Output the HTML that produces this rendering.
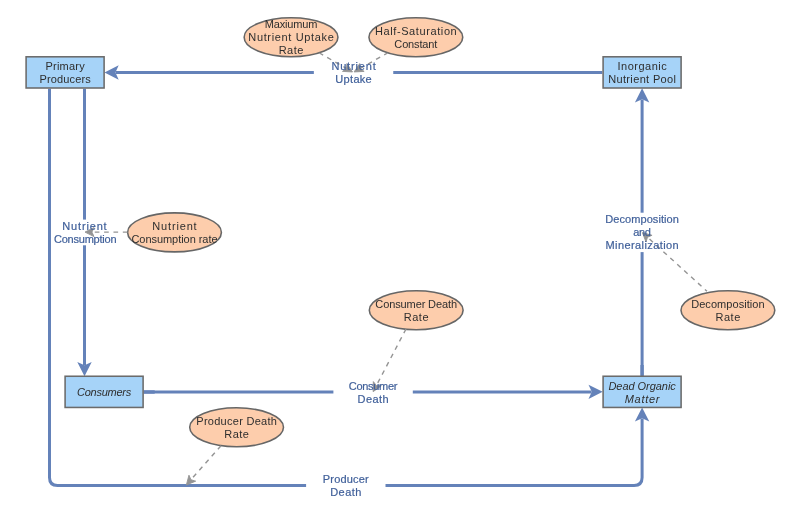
<!DOCTYPE html>
<html><head><meta charset="utf-8"><title>Nutrient Cycle Model</title>
<style>
html,body{margin:0;padding:0;background:#fff;}
body{width:800px;height:515px;overflow:hidden;}
svg{display:block;will-change:transform;}
svg text{font-family:"Liberation Sans",sans-serif;font-size:11px;text-anchor:middle;}
</style></head><body>
<svg width="800" height="515" viewBox="0 0 800 515" role="img" aria-label="Nutrient cycle stock and flow diagram">
<rect width="800" height="515" fill="#fff"/>
<path d="M602.30 72.50 L115.60 72.50" fill="none" stroke="#6482B9" stroke-width="3" stroke-linejoin="round"/>
<polygon points="104.50,72.45 118.70,65.25 115.43,72.45 118.70,79.65" fill="#6482B9"/>
<rect x="313.85" y="59.55" width="79.40" height="25.70" fill="#fff"/>
<path d="M84.5 88.8 L84.5 365.20" fill="none" stroke="#6482B9" stroke-width="3" stroke-linejoin="round"/>
<polygon points="84.50,376.30 77.30,362.10 84.50,365.37 91.70,362.10" fill="#6482B9"/>
<rect x="44.80" y="219.60" width="79.40" height="25.70" fill="#fff"/>
<path d="M143.7 392.05 L591.60 392.05" fill="none" stroke="#6482B9" stroke-width="3" stroke-linejoin="round"/>
<polygon points="602.70,391.85 588.50,399.05 591.77,391.85 588.50,384.65" fill="#6482B9"/>
<rect x="143.7" y="390.3" width="11" height="3.4" fill="#6482B9"/>
<rect x="333.40" y="379.00" width="79.40" height="25.70" fill="#fff"/>
<path d="M642.1 375.8 L642.1 99.40" fill="none" stroke="#6482B9" stroke-width="3" stroke-linejoin="round"/>
<polygon points="642.10,88.30 649.30,102.50 642.10,99.23 634.90,102.50" fill="#6482B9"/>
<rect x="640.45" y="365" width="3.3" height="11" fill="#6482B9"/>
<rect x="602.40" y="212.70" width="79.40" height="39.40" fill="#fff"/>
<path d="M49.5 88.8 L49.5 477.45 Q49.5 485.45 57.50 485.45 L634.10 485.45 Q642.1 485.45 642.1 477.45 L642.1 418.50" fill="none" stroke="#6482B9" stroke-width="3" stroke-linejoin="round"/>
<polygon points="642.10,407.40 649.30,421.60 642.10,418.33 634.90,421.60" fill="#6482B9"/>
<rect x="306.10" y="472.45" width="79.40" height="25.70" fill="#fff"/>
<rect x="26.10" y="56.80" width="78.00" height="31.20" fill="#A6D3F8" stroke="#6b6b6b" stroke-width="1.56"/>
<rect x="603.10" y="56.80" width="78.00" height="31.20" fill="#A6D3F8" stroke="#6b6b6b" stroke-width="1.56"/>
<rect x="65.10" y="376.25" width="78.00" height="31.20" fill="#A6D3F8" stroke="#6b6b6b" stroke-width="1.56"/>
<rect x="603.10" y="376.25" width="78.00" height="31.20" fill="#A6D3F8" stroke="#6b6b6b" stroke-width="1.56"/>
<ellipse cx="291.05" cy="37.20" rx="46.90" ry="19.50" fill="#FDCDAC" stroke="#666666" stroke-width="1.56"/>
<ellipse cx="415.85" cy="37.20" rx="46.90" ry="19.50" fill="#FDCDAC" stroke="#666666" stroke-width="1.56"/>
<ellipse cx="174.50" cy="232.40" rx="46.90" ry="19.50" fill="#FDCDAC" stroke="#666666" stroke-width="1.56"/>
<ellipse cx="416.20" cy="310.20" rx="46.90" ry="19.50" fill="#FDCDAC" stroke="#666666" stroke-width="1.56"/>
<ellipse cx="236.60" cy="427.30" rx="46.90" ry="19.50" fill="#FDCDAC" stroke="#666666" stroke-width="1.56"/>
<ellipse cx="727.90" cy="310.20" rx="46.90" ry="19.50" fill="#FDCDAC" stroke="#666666" stroke-width="1.56"/>
<path d="M319.50 53.00 L346.76 68.65" fill="none" stroke="#949494" stroke-width="1.4" stroke-dasharray="4.68 4.68" stroke-dashoffset="0.50"/>
<polygon points="352.51,71.95 342.47,71.37 346.50,68.50 346.95,63.57" fill="#949494" stroke="#949494" stroke-width="0.90" stroke-linejoin="round"/>
<path d="M387.50 53.00 L359.85 68.68" fill="none" stroke="#949494" stroke-width="1.4" stroke-dasharray="4.68 4.68" stroke-dashoffset="0.90"/>
<polygon points="354.09,71.95 359.70,63.60 360.11,68.53 364.14,71.42" fill="#949494" stroke="#949494" stroke-width="0.90" stroke-linejoin="round"/>
<path d="M127.50 232.10 L91.63 232.10" fill="none" stroke="#949494" stroke-width="1.4" stroke-dasharray="4.68 4.68" stroke-dashoffset="0.00"/>
<polygon points="85.00,232.10 94.00,227.60 91.93,232.10 94.00,236.60" fill="#949494" stroke="#949494" stroke-width="0.90" stroke-linejoin="round"/>
<path d="M406.00 329.00 L376.23 385.79" fill="none" stroke="#949494" stroke-width="1.4" stroke-dasharray="4.68 4.68" stroke-dashoffset="0.00"/>
<polygon points="373.15,391.66 373.34,381.60 376.36,385.52 381.31,385.78" fill="#949494" stroke="#949494" stroke-width="0.90" stroke-linejoin="round"/>
<path d="M221.00 445.80 L190.76 479.96" fill="none" stroke="#949494" stroke-width="1.4" stroke-dasharray="4.68 4.68" stroke-dashoffset="0.00"/>
<polygon points="186.37,484.93 188.96,475.20 190.96,479.74 195.70,481.17" fill="#949494" stroke="#949494" stroke-width="0.90" stroke-linejoin="round"/>
<path d="M707.00 291.30 L647.28 237.03" fill="none" stroke="#949494" stroke-width="1.4" stroke-dasharray="4.68 4.68" stroke-dashoffset="1.90"/>
<polygon points="642.37,232.57 652.06,235.29 647.50,237.23 646.01,241.95" fill="#949494" stroke="#949494" stroke-width="0.90" stroke-linejoin="round"/>
<text x="353.96" y="70.00" fill="#40609a" letter-spacing="0.829" stroke="#40609a" stroke-width="0.2">Nutrient</text><text x="353.70" y="83.00" fill="#40609a" letter-spacing="0.300" stroke="#40609a" stroke-width="0.2">Uptake</text>
<text x="84.91" y="230.00" fill="#40609a" letter-spacing="0.829" stroke="#40609a" stroke-width="0.2">Nutrient</text><text x="85.19" y="243.00" fill="#40609a" letter-spacing="-0.220" stroke="#40609a" stroke-width="0.2">Consumption</text>
<text x="372.95" y="390.00" fill="#40609a" letter-spacing="-0.300" stroke="#40609a" stroke-width="0.2">Consumer</text><text x="373.33" y="403.00" fill="#40609a" letter-spacing="0.450" stroke="#40609a" stroke-width="0.2">Death</text>
<text x="642.13" y="223.00" fill="#40609a" letter-spacing="0.058" stroke="#40609a" stroke-width="0.2">Decomposition</text><text x="641.95" y="236.00" fill="#40609a" letter-spacing="-0.300" stroke="#40609a" stroke-width="0.2">and</text><text x="642.30" y="249.00" fill="#40609a" letter-spacing="0.408" stroke="#40609a" stroke-width="0.2">Mineralization</text>
<text x="345.89" y="483.00" fill="#40609a" letter-spacing="0.186" stroke="#40609a" stroke-width="0.2">Producer</text><text x="346.03" y="496.00" fill="#40609a" letter-spacing="0.450" stroke="#40609a" stroke-width="0.2">Death</text>
<text x="65.22" y="70.00" fill="#2e2e2e" letter-spacing="0.250">Primary</text><text x="65.18" y="83.00" fill="#2e2e2e" letter-spacing="0.156">Producers</text>
<text x="642.35" y="70.00" fill="#2e2e2e" letter-spacing="0.500">Inorganic</text><text x="642.27" y="83.00" fill="#2e2e2e" letter-spacing="0.350">Nutrient Pool</text>
<text x="103.98" y="396.00" fill="#2e2e2e" font-style="italic" letter-spacing="-0.237">Consumers</text>
<text x="642.08" y="390.00" fill="#2e2e2e" font-style="italic" letter-spacing="-0.045">Dead Organic</text><text x="642.45" y="403.00" fill="#2e2e2e" font-style="italic" letter-spacing="0.700">Matter</text>
<text x="290.96" y="28.00" fill="#2e2e2e" letter-spacing="-0.179">Maxiumum</text><text x="291.37" y="41.00" fill="#2e2e2e" letter-spacing="0.643">Nutrient Uptake</text><text x="291.30" y="54.00" fill="#2e2e2e" letter-spacing="0.500">Rate</text>
<text x="416.15" y="35.00" fill="#2e2e2e" letter-spacing="0.600">Half-Saturation</text><text x="415.78" y="48.00" fill="#2e2e2e" letter-spacing="-0.143">Constant</text>
<text x="174.91" y="230.00" fill="#2e2e2e" letter-spacing="0.829">Nutrient</text><text x="174.47" y="243.00" fill="#2e2e2e" letter-spacing="-0.050">Consumption rate</text>
<text x="416.14" y="308.00" fill="#2e2e2e" letter-spacing="-0.115">Consumer Death</text><text x="416.45" y="321.00" fill="#2e2e2e" letter-spacing="0.500">Rate</text>
<text x="236.74" y="425.00" fill="#2e2e2e" letter-spacing="0.277">Producer Death</text><text x="236.85" y="438.00" fill="#2e2e2e" letter-spacing="0.500">Rate</text>
<text x="727.93" y="308.00" fill="#2e2e2e" letter-spacing="0.058">Decomposition</text><text x="728.15" y="321.00" fill="#2e2e2e" letter-spacing="0.500">Rate</text>
</svg>
</body></html>
